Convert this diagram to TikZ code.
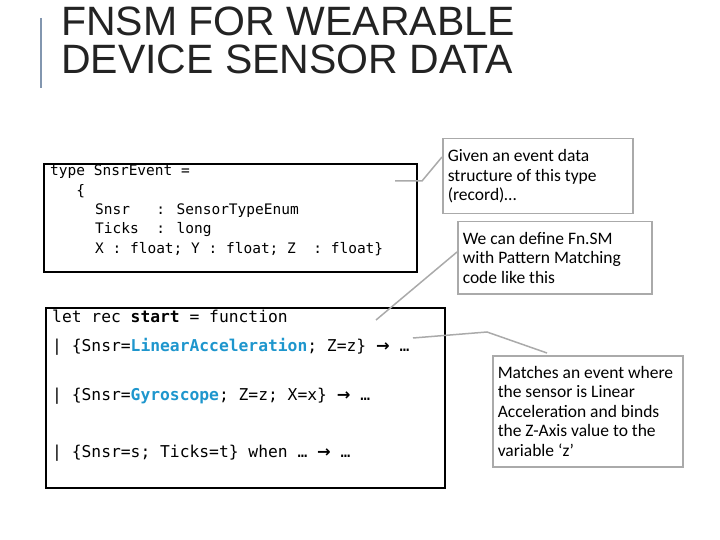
\documentclass[tikz,border=0pt]{standalone}
\usepackage{fontspec}
\setmainfont{Carlito}
\newfontfamily\titlefont{Liberation Sans}
\newfontfamily\codefont{DejaVu Sans Mono}
\newfontfamily\symfont{DejaVu Sans}
\definecolor{kw}{RGB}{30,150,205}
\definecolor{cg}{RGB}{170,170,170}
\definecolor{bar}{RGB}{130,150,175}
\definecolor{tt}{RGB}{35,35,35}
\begin{document}
\begin{tikzpicture}[x=1pt,y=-1pt,
  codebox/.style={draw=black,line width=1.5pt,anchor=north west,inner sep=0pt},
  callout/.style={draw=cg,line width=1.5pt,anchor=north west,inner sep=5pt,text width=#1,align=flush left,font=\fontsize{17.5}{19.5}\selectfont},
  link/.style={draw=cg,line width=1.5pt},
  code/.style={anchor=north west,inner sep=0pt,align=left,font=\codefont\fontsize{#1}{19.3}\selectfont}]
\useasboundingbox (0,0) rectangle (720,540);
\draw[draw=bar,line width=2.5pt] (41,18) -- (41,88);
\node[anchor=north west,inner sep=0pt,align=left,text=tt,font=\titlefont\fontsize{41}{38}\selectfont] (title) at (61,7) {FNSM FOR WEARABLE\\DEVICE SENSOR DATA};
\draw[codebox] (44,164) rectangle (417,272);
\node[code=14.5] (t1) at (50,165) {type SnsrEvent =\\\hspace*{1.8em}\{\\\hspace*{3.1em}Snsr~~~: SensorTypeEnum\\\hspace*{3.1em}Ticks~~: long\\\hspace*{3.1em}X : float; Y : float; Z~~: float\}};
\draw[codebox] (46,308) rectangle (445,488);
\node[code=16.3] (t2) at (52,310) {let rec \textbf{start} = function};
\node[code=16.3] (t3) at (52,338) {| \{Snsr=\textcolor{kw}{\textbf{LinearAcceleration}}; Z=z\} {\symfont\bfseries →} …};
\node[code=16.3] (t4) at (52,388) {| \{Snsr=\textcolor{kw}{\textbf{Gyroscope}}; Z=z; X=x\} {\symfont\bfseries →} …};
\node[code=16.3] (t5) at (52,445) {| \{Snsr=s; Ticks=t\} when … {\symfont\bfseries →} …};
\node[callout=180pt,minimum height=75pt] (c1) at (442,138) {Given an event data structure of this type (record)…};
\node[callout=184pt,minimum height=72pt] (c2) at (457,221) {We can define Fn.SM with Pattern Matching code like this};
\node[callout=180pt,minimum height=111pt] (c3) at (492,355) {Matches an event where the sensor is Linear Acceleration and binds the Z-Axis value to the variable ‘z’};
\coordinate (p1) at (395,181); \coordinate (q1) at (422,181);
\draw[link] (p1) -- (q1) -- (c1.west |- 0,157);
\coordinate (p2) at (376,320);
\draw[link] (p2) -- (c2.west |- 0,252);
\coordinate (p3) at (413,338); \coordinate (q3) at (487,332); \coordinate (r3) at (547,353);
\draw[link] (p3) -- (q3) -- (r3);
\end{tikzpicture}
\end{document}
